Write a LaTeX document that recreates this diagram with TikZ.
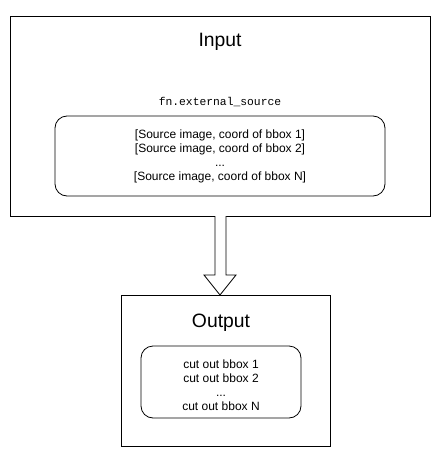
\documentclass[tikz,border=0pt]{standalone}
\usepackage{fontspec}
\setmainfont{Liberation Sans}
\setmonofont{Liberation Mono}
\begin{document}
\begin{tikzpicture}[x=0.75pt,y=-0.75pt,
  outerbox/.style={draw, line width=0.75pt, fill=white},
  innerbox/.style={draw, line width=0.6pt, rounded corners=9pt},
  title/.style={font=\fontsize{14.5}{17}\selectfont},
  body/.style={font=\fontsize{9}{10.5}\selectfont, align=center},
  code/.style={font=\ttfamily\fontsize{8.5}{10}\selectfont}]
\useasboundingbox (0,0) rectangle (448,464);
% Input
\draw[outerbox] (10,16) rectangle (430,216);
\node[title] (intitle) at (220,42) {Input};
\node[code] (fn) at (220,102) {fn.external\_source};
\draw[innerbox] (55,116) rectangle (385,196);
\node[body] (inlist) at (220,156) {{[Source image, coord of bbox 1]}\\{[Source image, coord of bbox 2]}\\...\\{[Source image, coord of bbox N]}};
% Arrow
\draw[line width=0.6pt, fill=white] (215,216) -- (215,275) -- (204,275) -- (220,295) -- (236,275) -- (226,275) -- (226,216);
% Output
\draw[outerbox] (121,295) rectangle (330,446);
\node[title] (outtitle) at (221,323) {Output};
\draw[innerbox] (141,346) rectangle (301,418);
\node[body] (outlist) at (221,385) {cut out bbox 1\\cut out bbox 2\\...\\cut out bbox N};
\end{tikzpicture}
\end{document}
